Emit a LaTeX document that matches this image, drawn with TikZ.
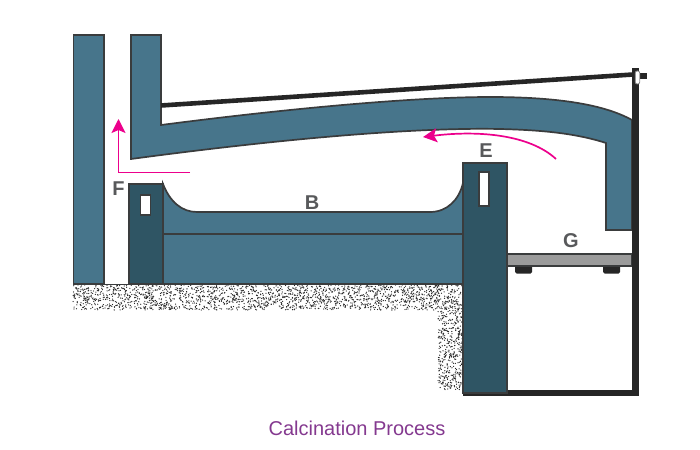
\documentclass[tikz,border=0pt]{standalone}
\usepackage{fontspec}
\setmainfont{Liberation Sans}
\usepackage{xcolor}
\usetikzlibrary{arrows.meta,positioning,calc}
\definecolor{kilnblue}{HTML}{47758B}
\definecolor{blockblue}{HTML}{2F5564}
\definecolor{edgegrey}{HTML}{3A3C3D}
\definecolor{rodblack}{HTML}{262626}
\definecolor{tablegrey}{HTML}{9B9B9B}
\definecolor{labelgrey}{HTML}{58595B}
\definecolor{flowpink}{HTML}{EC008C}
\definecolor{captionpurple}{HTML}{84398F}
\tikzset{
  kiln/.style={draw=edgegrey,fill=kilnblue,line width=1.7pt,line join=miter},
  block/.style={draw=edgegrey,fill=blockblue,line width=2pt},
  slot/.style={draw=edgegrey,fill=white,line width=1.6pt},
  letter/.style={text=labelgrey,font=\fontsize{20}{20}\selectfont\bfseries,inner sep=0pt},
  flow/.style={draw=flowpink,line width=1.7pt,-{Stealth[length=14pt,width=14pt,inset=3pt]}}
}
\begin{document}
\begin{tikzpicture}[x=1pt,y=-1pt]
\useasboundingbox (0,0) rectangle (700,449);
% ground
\pgfmathsetseed{4217}
\foreach \i in {1,...,2000}{
  \pgfmathsetmacro{\px}{73+390*rnd}
  \pgfmathsetmacro{\py}{285+25*rnd}
  \fill[black!85] (\px,\py) circle (0.65);
}
\foreach \i in {1,...,420}{
  \pgfmathsetmacro{\px}{438+25*rnd}
  \pgfmathsetmacro{\py}{308+82*rnd}
  \fill[black!85] (\px,\py) circle (0.65);
}
\draw[edgegrey,line width=1.6pt] (73,284.5) -- (463,284.5);
% stack and roof
\draw[kiln] (73.5,35) rectangle (104,284);
\draw[kiln] (131,35) -- (161,35) -- (161,125)
  .. controls (300,107) and (420,97) .. (490,97)
  .. controls (560,97) and (605,105) .. (632,120)
  -- (632,230) -- (606,230) -- (606,143)
  .. controls (575,133) and (540,130) .. (500,129)
  .. controls (400,127) and (250,143) .. (131,159) -- cycle;
% bed
\draw[kiln] (163,184) .. controls (170,202) and (182,212) .. (197,212)
  -- (430,212) .. controls (447,212) and (459,200) .. (463,183)
  -- (463,284) -- (163,284) -- cycle;
\draw[edgegrey,line width=1.6pt] (163,234) -- (463,234);
% car frame
\fill[rodblack] (631.5,68) rectangle (638.5,396);
\fill[rodblack] (463,389.5) rectangle (638.5,396);
% end blocks
\node[block,minimum width=34pt,minimum height=100pt,inner sep=0pt] (blockF) at (146,234) {};
\node[slot,minimum width=10pt,minimum height=20pt,inner sep=0pt] (slotF) at (145.5,205) {};
\node[block,minimum width=44pt,minimum height=230pt,inner sep=0pt] (blockE) at (485,278) {};
\node[slot,minimum width=10pt,minimum height=34pt,inner sep=0pt] (slotE) at (484,189) {};
\draw[rodblack,line width=4.6pt] (161,105.5) -- (633,74.5);
\fill[rodblack] (638,73.5) rectangle (647,79);
\node[draw=black!45,fill=white,line width=0.8pt,rounded corners=2pt,minimum width=4.5pt,minimum height=13pt,inner sep=0pt] (pin) at (637.5,77.5) {};
% table
\fill[rodblack,rounded corners=1.5pt] (515,264) rectangle (532,273.5);
\fill[rodblack,rounded corners=1.5pt] (603,264) rectangle (620,273.5);
\draw[edgegrey,fill=tablegrey,line width=1.6pt] (507,254) rectangle (631.5,266);
% flow arrows
\coordinate (flowA) at (190,172.5);
\coordinate (flowB) at (118.5,172.5);
\coordinate (flowC) at (118.5,119);
\coordinate (flowD) at (556,159);
\coordinate (flowE) at (423,137);
\draw[flow] (flowA) -- (flowB) -- (flowC);
\draw[flow] (flowD) .. controls (530,135) and (480,130) .. (flowE);
% labels
\node[letter] (labelF) at (118.5,188.5) {F};
\node[letter] (labelB) at (312,202.5) {B};
\node[letter] (labelE) at (486,150.5) {E};
\node[letter] (labelG) at (571,240.5) {G};
\node[text=captionpurple,font=\fontsize{20}{20}\selectfont,inner sep=0pt] (caption) at (357,428.5) {Calcination Process};
\end{tikzpicture}
\end{document}
